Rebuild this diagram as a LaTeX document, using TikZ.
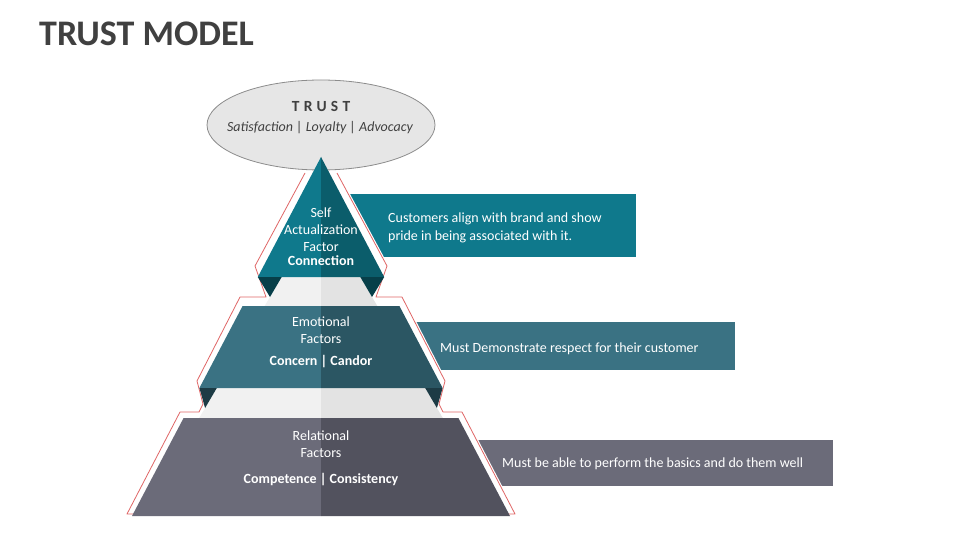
\documentclass[tikz,border=0pt]{standalone}
\usepackage{fontspec}
\setmainfont{Carlito}
\definecolor{tealL}{HTML}{0F798C}
\definecolor{tealR}{HTML}{0B5D6B}
\definecolor{tealF}{HTML}{073F49}
\definecolor{midL}{HTML}{3A7283}
\definecolor{midR}{HTML}{2B5663}
\definecolor{midF}{HTML}{1D3B45}
\definecolor{botL}{HTML}{6B6B79}
\definecolor{botR}{HTML}{52525E}
\definecolor{bandL}{HTML}{F1F1F1}
\definecolor{bandR}{HTML}{E3E3E3}
\definecolor{ellF}{HTML}{E6E6E6}
\definecolor{ellD}{HTML}{8C8C8C}
\definecolor{redL}{HTML}{E06666}
\definecolor{titleC}{HTML}{404040}
\tikzset{
  lbl/.style={text=white, font=\fontsize{14}{16}\selectfont, anchor=base, inner sep=0pt},
  lblb/.style={text=white, font=\fontsize{14}{16}\selectfont\bfseries, anchor=base, inner sep=0pt},
  boxtxt/.style={text=white, font=\fontsize{14}{16}\selectfont, anchor=base west, inner sep=0pt},
}
\begin{document}
\begin{tikzpicture}[x=1pt,y=-1pt]
\useasboundingbox (0,0) rectangle (960,540);
\fill[white] (0,0) rectangle (960,540);
% title
\node[anchor=base west, inner sep=0pt, text=titleC, font=\fontsize{36}{40}\selectfont\bfseries] (title) at (39,46) {TRUST MODEL};
% callout boxes
\fill[tealL] (330,194) rectangle (636,257);
\fill[midL] (400,322) rectangle (735,370);
\fill[botL] (470,440) rectangle (833,486);
% white separation and red outline
\path[fill=white, draw=white, line width=3pt, line join=round]
  (305,173) -- (255,266) -- (266,297) -- (240,297) -- (197,381) -- (203,404) -- (199,412) -- (180,412) -- (127,514)
  -- (515,514) -- (462,412) -- (443,412) -- (439,404) -- (445,381) -- (402,297) -- (376,297) -- (387,266) -- (337,173) -- cycle;
\draw[redL, line width=0.8pt, line join=round]
  (305,173) -- (255,266) -- (266,297) -- (240,297) -- (197,381) -- (203,404) -- (199,412) -- (180,412) -- (127,514)
  -- (515,514) -- (462,412) -- (443,412) -- (439,404) -- (445,381) -- (402,297) -- (376,297) -- (387,266) -- (337,173);
% ellipse
\draw[fill=ellF, draw=ellD, line width=0.8pt] (321,125) ellipse [x radius=114pt, y radius=45pt];
\node[inner sep=0pt, anchor=base, text=titleC, font=\fontsize{15.5}{18}\selectfont\bfseries\addfontfeatures{LetterSpace=28}] (trust) at (321,112) {TRUST};
\node[inner sep=0pt, anchor=base, text=titleC, font=\fontsize{14}{16}\selectfont\itshape] (sla) at (320,132) {Satisfaction | Loyalty | Advocacy};
% core bands
\fill[bandL] (281.7,277) -- (321,277) -- (321,306) -- (264.7,306) -- cycle;
\fill[bandR] (321,277) -- (360.3,277) -- (377.3,306) -- (321,306) -- cycle;
\fill[bandL] (216.8,388) -- (321,388) -- (321,418) -- (199.2,418) -- cycle;
\fill[bandR] (321,388) -- (425.2,388) -- (442.8,418) -- (321,418) -- cycle;
% top triangle
\fill[tealL] (321,157) -- (257.8,277) -- (321,277) -- cycle;
\fill[tealR] (321,157) -- (384.2,277) -- (321,277) -- cycle;
\fill[tealF] (257.8,277) -- (281.7,277) -- (270,297) -- cycle;
\fill[tealF] (360.3,277) -- (384.2,277) -- (372,297) -- cycle;
% middle trapezoid
\fill[midL] (242.6,306) -- (321,306) -- (321,388) -- (199.4,388) -- cycle;
\fill[midR] (321,306) -- (399.4,306) -- (442.6,388) -- (321,388) -- cycle;
\fill[midF] (199.4,388) -- (216.8,388) -- (205.1,408) -- cycle;
\fill[midF] (425.2,388) -- (442.6,388) -- (436.9,408) -- cycle;
% bottom trapezoid
\fill[botL] (183.6,418) -- (321,418) -- (321,516) -- (132,516) -- cycle;
\fill[botR] (321,418) -- (458.4,418) -- (510,516) -- (321,516) -- cycle;
% pyramid labels
\node[lbl] (t1) at (321,217) {Self};
\node[lbl] (t2) at (321,234) {Actualization};
\node[lbl] (t3) at (321,251) {Factor};
\node[lblb] (t4) at (321,265) {Connection};
\node[lbl] (m1) at (321,326) {Emotional};
\node[lbl] (m2) at (321,343) {Factors};
\node[lblb] (m3) at (321,365) {Concern | Candor};
\node[lbl] (b1) at (321,440) {Relational};
\node[lbl] (b2) at (321,457) {Factors};
\node[lblb] (b3) at (321,483) {Competence | Consistency};
% box texts
\node[boxtxt] (x1) at (388,222) {Customers align with brand and show};
\node[boxtxt] (x2) at (388,240) {pride in being associated with it.};
\node[boxtxt] (y1) at (440,352) {Must Demonstrate respect for their customer};
\node[boxtxt] (z1) at (502,467) {Must be able to perform the basics and do them well};
\end{tikzpicture}
\end{document}
